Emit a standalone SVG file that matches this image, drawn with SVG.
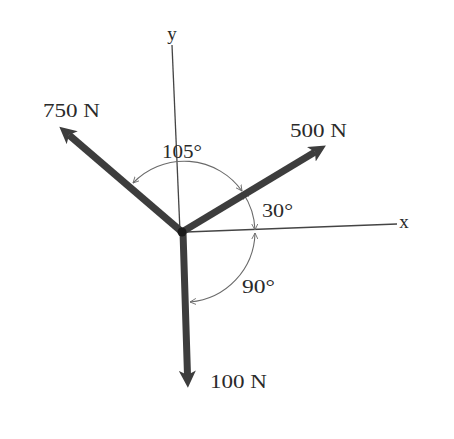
<svg xmlns="http://www.w3.org/2000/svg" width="454" height="439" viewBox="0 0 454 439">
<style>
.axis{stroke:#444;stroke-width:1.3;fill:none}
.force{stroke:#3d3d3d;stroke-width:7;fill:none;stroke-linecap:butt}
.arc{stroke:#6a6a6a;stroke-width:1.1;fill:none}
.lbl{font-family:"Liberation Serif","Times New Roman",serif;fill:#2a2a2a;font-size:19px}
</style>
<defs>
<marker id="head" viewBox="0 0 16 16" refX="4" refY="8" markerWidth="17" markerHeight="17" markerUnits="userSpaceOnUse" orient="auto">
<path d="M0,0 L16,8 L0,16 L4,8 z" fill="#3d3d3d"/>
</marker>
<marker id="tick" viewBox="0 0 8 8" refX="7" refY="4" markerWidth="7" markerHeight="7" markerUnits="userSpaceOnUse" orient="auto-start-reverse">
<path d="M0,0.5 L7,4 L0,7.5" fill="none" stroke="#6a6a6a" stroke-width="1"/>
</marker>
</defs>
<rect width="454" height="439" fill="#ffffff"/>
<g id="axes">
<path id="y-axis" class="axis" d="M180 232 L172 45"/>
<path id="x-axis" class="axis" d="M186 232 L397 224"/>
</g>
<g id="connectors">
<path id="arc-105" class="arc" d="M133 183 A71 71 0 0 1 242 191" marker-start="url(#tick)" marker-end="url(#tick)"/>
<path id="arc-30" class="arc" d="M243 193 A71 71 0 0 1 255 230" marker-start="url(#tick)" marker-end="url(#tick)"/>
<path id="arc-90" class="arc" d="M255 233 A71 71 0 0 1 190 302" marker-start="url(#tick)" marker-end="url(#tick)"/>
</g>
<g id="force-750">
<path class="force" d="M182 232 L69 135" marker-end="url(#head)"/>
<text class="lbl" x="43" y="117" textLength="57" lengthAdjust="spacingAndGlyphs">750 N</text>
</g>
<g id="force-500">
<path class="force" d="M182 232 L315 152" marker-end="url(#head)"/>
<text class="lbl" x="290" y="137" textLength="57" lengthAdjust="spacingAndGlyphs">500 N</text>
</g>
<g id="force-100">
<path class="force" d="M183 232 L187.5 375" marker-end="url(#head)"/>
<text class="lbl" x="210" y="388" textLength="57" lengthAdjust="spacingAndGlyphs">100 N</text>
</g>
<circle cx="182" cy="232" r="4.5" fill="#1a1a1a"/>
<g id="labels">
<text class="lbl" x="172" y="40" text-anchor="middle">y</text>
<text class="lbl" x="404" y="228" text-anchor="middle">x</text>
<text class="lbl" x="162" y="158" textLength="40" lengthAdjust="spacingAndGlyphs">105°</text>
<text class="lbl" x="262" y="217" textLength="31" lengthAdjust="spacingAndGlyphs">30°</text>
<text class="lbl" x="242" y="293" textLength="33" lengthAdjust="spacingAndGlyphs">90°</text>
</g>
</svg>
